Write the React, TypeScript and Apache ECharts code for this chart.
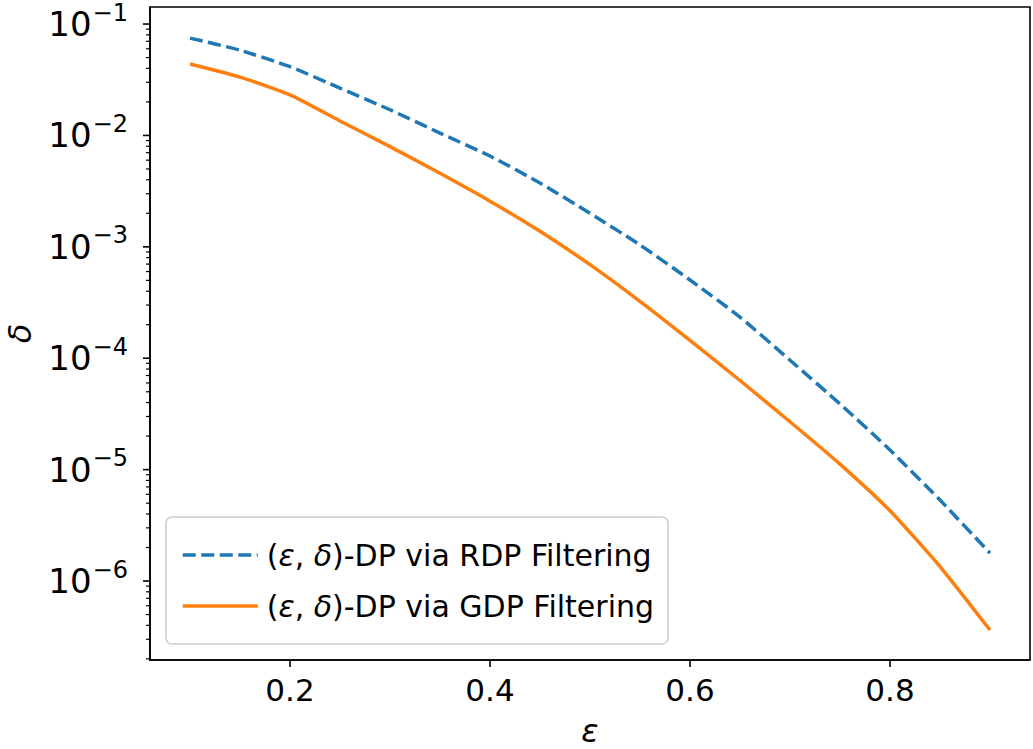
import React, { useEffect, useRef } from "react";
import * as echarts from "echarts";

// ε grid shared by both curves
const epsilon = [0.1, 0.15, 0.2, 0.25, 0.3, 0.35, 0.4, 0.45, 0.5, 0.55, 0.6, 0.65, 0.7, 0.75, 0.8, 0.85, 0.9];

// δ for (ε, δ)-DP obtained via RDP filtering
const deltaRdp = [
  0.0748, 0.0582, 0.0414, 0.0266, 0.017, 0.0105, 0.00653, 0.00374, 0.002, 0.00104,
  5.04e-4, 2.34e-4, 9.6e-5, 3.89e-5, 1.5e-5, 5.33e-6, 1.78e-6,
];

// δ for (ε, δ)-DP obtained via GDP filtering
const deltaGdp = [
  0.0438, 0.0334, 0.0231, 0.01349, 0.00794, 0.00457, 0.00257, 0.00138, 6.92e-4, 3.24e-4,
  1.445e-4, 6.31e-5, 2.69e-5, 1.12e-5, 4.27e-6, 1.35e-6, 3.63e-7,
];

const xTicks = [0.2, 0.4, 0.6, 0.8];
const yMajorTicks = [1e-6, 1e-5, 1e-4, 1e-3, 1e-2, 1e-1];
const yMinorTicks: number[] = [];
for (let e = -7; e <= -2; e++) {
  for (let k = 2; k <= 9; k++) yMinorTicks.push(k * Math.pow(10, e));
}

const X_MIN = 0.06;
const X_MAX = 0.94;
const Y_MIN = Math.pow(10, -6.709);
const Y_MAX = Math.pow(10, -0.847);

const FONT = "DejaVu Sans";

export default function App() {
  const ref = useRef<HTMLDivElement>(null);

  useEffect(() => {
    if (!ref.current) return;
    const chart = echarts.init(ref.current, undefined, { renderer: "svg" });
    const minorInRange = yMinorTicks.filter((v) => v > Y_MIN && v < Y_MAX);
    // [x, y, tick length] for every tick on the log axis
    const yTickData = [
      ...yMajorTicks.map((v) => [X_MIN, v, 7]),
      ...minorInRange.map((v) => [X_MIN, v, 4]),
    ];

    chart.setOption({
      animation: false,
      backgroundColor: "#ffffff",
      grid: {
        left: 150,
        right: 3,
        top: 7,
        bottom: 89,
        outerBoundsMode: "none",
        containLabel: false,
        show: true,
        borderColor: "#000",
        borderWidth: 1.6,
        backgroundColor: "transparent",
      },
      // x-axis title, centred under the plotting area
      graphic: [
        {
          type: "text",
          x: 590,
          y: 731,
          style: {
            text: "ε",
            fontFamily: FONT,
            fontSize: 32,
            fontStyle: "italic",
            fill: "#000",
            lineHeight: 26,
            align: "center",
            verticalAlign: "middle",
          },
        },
      ],
      legend: {
        orient: "vertical",
        left: 166,
        top: 517,
        itemWidth: 75,
        itemHeight: 20,
        itemGap: 13,
        padding: [19, 14, 19, 15],
        backgroundColor: "rgba(255,255,255,0.8)",
        borderColor: "#cccccc",
        borderWidth: 1.5,
        borderRadius: 6,
        itemStyle: { color: "transparent", opacity: 0, borderWidth: 0 },
        lineStyle: { width: 3.5 },
        textStyle: {
          fontFamily: FONT,
          fontSize: 30,
          color: "#000",
          lineHeight: 38,
          padding: [0, 0, 0, 4],
          rich: {
            i: { fontFamily: FONT, fontSize: 30, fontStyle: "italic", color: "#000" },
          },
        },
        formatter: (name: string) => name.replace(/ε/g, "{i|ε}").replace(/δ/g, "{i|δ}"),
        data: ["(ε, δ)-DP via RDP Filtering", "(ε, δ)-DP via GDP Filtering"],
      },
      xAxis: {
        type: "value",
        min: X_MIN,
        max: X_MAX,
        axisLine: { show: true, lineStyle: { color: "#000", width: 1.6 } },
        axisTick: { show: true, customValues: xTicks, length: 7, lineStyle: { color: "#000", width: 1.6 } },
        axisLabel: {
          customValues: xTicks,
          margin: 14,
          fontFamily: FONT,
          fontSize: 31,
          color: "#000",
          formatter: (v: number) => v.toFixed(1),
        },
        splitLine: { show: false },
      },
      yAxis: {
        type: "log",
        logBase: 10,
        min: Y_MIN,
        max: Y_MAX,
        name: "δ",
        nameLocation: "middle",
        nameGap: 116,
        nameRotate: 90,
        nameTextStyle: { fontFamily: FONT, fontSize: 32, fontStyle: "italic", color: "#000", lineHeight: 28 },
        axisLine: { show: true, lineStyle: { color: "#000", width: 1.6 } },
        axisTick: { show: false },
        axisLabel: {
          customValues: yMajorTicks,
          margin: 22,
          fontFamily: FONT,
          color: "#000",
          formatter: (v: number) => {
            const e = Math.round(Math.log10(v));
            return "{b|10}{s|\u2212" + Math.abs(e) + "}";
          },
          rich: {
            b: { fontFamily: FONT, fontSize: 34, color: "#000" },
            s: { fontFamily: FONT, fontSize: 24, color: "#000", padding: [0, 0, 23, 1] },
          },
        },
        splitLine: { show: false },
      },
      series: [
        {
          name: "(ε, δ)-DP via RDP Filtering",
          type: "line",
          symbol: "none",
          smooth: 0.2,
          data: epsilon.map((e, i) => [e, deltaRdp[i]]),
          lineStyle: { color: "#1f77b4", width: 3.5, type: [13, 5.5] },
          itemStyle: { color: "#1f77b4" },
        },
        {
          name: "(ε, δ)-DP via GDP Filtering",
          type: "line",
          symbol: "none",
          smooth: 0.2,
          data: epsilon.map((e, i) => [e, deltaGdp[i]]),
          lineStyle: { color: "#ff7f0e", width: 3.5 },
          itemStyle: { color: "#ff7f0e" },
        },
        {
          // major and minor ticks of the log axis, placed through the axis scale
          name: "yTicks",
          type: "custom",
          silent: true,
          clip: false,
          data: yTickData,
          encode: { x: 0, y: 1 },
          renderItem: (params: any, api: any) => {
            const p = api.coord([api.value(0), api.value(1)]);
            const len = api.value(2);
            return {
              type: "line",
              shape: { x1: p[0] - len, y1: p[1], x2: p[0], y2: p[1] },
              style: { stroke: "#000", lineWidth: len > 5 ? 1.6 : 1.2 },
            };
          },
        },
      ],
    });

    return () => chart.dispose();
  }, []);

  return (
    <div
      ref={ref}
      style={{ position: "fixed", left: 0, top: 0, width: 1033, height: 749, background: "#fff" }}
    />
  );
}
